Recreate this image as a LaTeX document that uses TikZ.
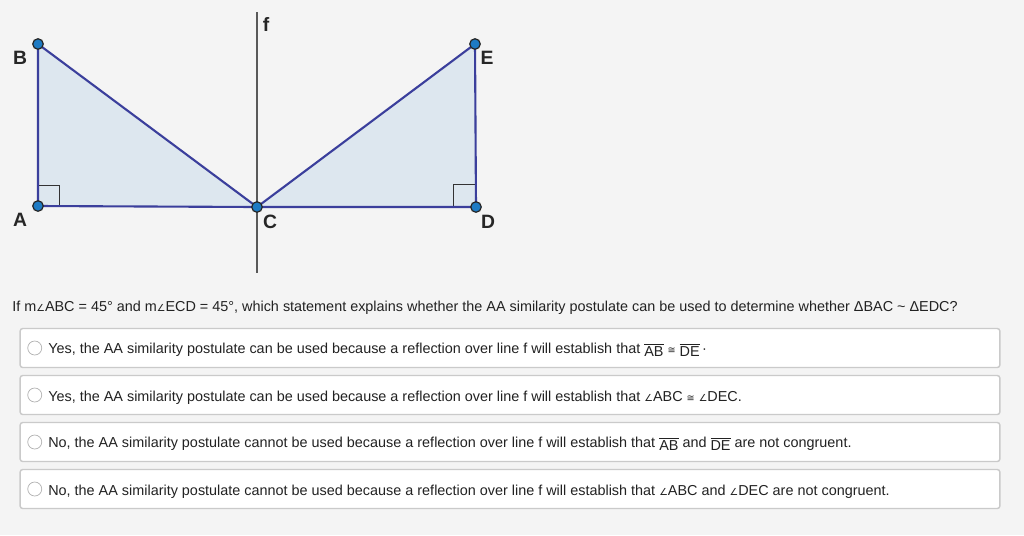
\documentclass[tikz,border=0pt]{standalone}
\usepackage{fontspec}
\setmainfont{Liberation Sans}
\newfontfamily\symfont{DejaVu Sans}
\usetikzlibrary{positioning}

\definecolor{pagebg}{HTML}{F4F4F4}
\definecolor{trifill}{HTML}{DDE7EF}
\definecolor{triedge}{HTML}{3B3F9C}
\definecolor{ptblue}{HTML}{1E7BC4}
\definecolor{boxline}{HTML}{CACACA}
\definecolor{txt}{HTML}{222222}

\newcommand{\angsym}{{\symfont\fontsize{5.5}{5.5}\selectfont ∠}}
\newcommand{\congsym}{{\symfont\fontsize{5.5}{5.5}\selectfont ≅}}
\newcommand{\seg}[1]{\raisebox{-2.2pt}{$\overline{\hbox{#1}}$}}

\begin{document}
\begin{tikzpicture}[x=0.02cm, y=-0.02cm,
	pt/.style={circle, draw=black!85, fill=ptblue, line width=0.7pt, inner sep=0pt, minimum size=6pt},
	lbl/.style={font=\bfseries\fontsize{11}{13}\selectfont, text=black!85},
	choice/.style={draw=boxline, fill=white, line width=0.8pt, rounded corners=1.5pt, minimum width=19.6cm, minimum height=0.78cm},
	radio/.style={circle, draw=black!30, fill=white, line width=0.4pt, inner sep=0pt, minimum size=0.28cm},
	opttext/.style={font=\fontsize{8.2}{10}\selectfont, text=txt}]
	\fill[pagebg] (0,0) rectangle (1024,535);
	\useasboundingbox (0,0) rectangle (1024,535);

	% figure
	\coordinate (A) at (38,206);
	\coordinate (B) at (38,44);
	\coordinate (C) at (257,207);
	\coordinate (D) at (476,207);
	\coordinate (E) at (475,44);
	\coordinate (ftop) at (257,12);
	\coordinate (fbot) at (257,273);

	\fill[trifill] (A) -- (B) -- (C) -- cycle;
	\fill[trifill] (D) -- (E) -- (C) -- cycle;
	\draw[black!80, line width=0.4pt] (A) ++(0,-21) -| ++(21,21);
	\draw[black!80, line width=0.4pt] (D) ++(0,-23) -| ++(-23,23);
	\draw[triedge, line width=1.2pt, line join=round] (A) -- (B) -- (C) -- cycle;
	\draw[triedge, line width=1.2pt, line join=round] (D) -- (E) -- (C) -- cycle;
	\draw[black!65, line width=1pt] (ftop) -- (fbot);

	\node[pt] (pA) at (A) {};
	\node[pt] (pB) at (B) {};
	\node[pt] (pC) at (C) {};
	\node[pt] (pD) at (D) {};
	\node[pt] (pE) at (E) {};

	\node[lbl] (lA) at (20,220) {A};
	\node[lbl] (lB) at (20,58) {B};
	\node[lbl] (lC) at (270,222) {C};
	\node[lbl] (lD) at (488,222) {D};
	\node[lbl] (lE) at (487,58) {E};
	\node[lbl] (lf) at (266,24) {f};

	% question
	\node[opttext, anchor=west, inner sep=0pt] (q) at (12,308)
		{If m\angsym ABC = 45° and m\angsym ECD = 45°, which statement explains whether the AA similarity postulate can be used to determine whether ΔBAC \textasciitilde{} ΔEDC?};

	% answer choices
	\node[choice] (opt1) at (510,348) {};
	\node[radio, right=0.16cm of opt1.west] (r1) {};
	\node[opttext, right=0pt of r1, yshift=-1pt] (t1) {Yes, the AA similarity postulate can be used because a reflection over line f will establish that \seg{AB} \congsym{} \seg{DE}\,·};

	\node[choice] (opt2) at (510,395) {};
	\node[radio, right=0.16cm of opt2.west] (r2) {};
	\node[opttext, right=0pt of r2, yshift=-1.5pt] (t2) {Yes, the AA similarity postulate can be used because a reflection over line f will establish that \angsym ABC \congsym{} \angsym DEC.};

	\node[choice] (opt3) at (510,442) {};
	\node[radio, right=0.16cm of opt3.west] (r3) {};
	\node[opttext, right=0pt of r3, yshift=-1pt] (t3) {No, the AA similarity postulate cannot be used because a reflection over line f will establish that \seg{AB} and \seg{DE} are not congruent.};

	\node[choice] (opt4) at (510,489) {};
	\node[radio, right=0.16cm of opt4.west] (r4) {};
	\node[opttext, right=0pt of r4, yshift=-1.5pt] (t4) {No, the AA similarity postulate cannot be used because a reflection over line f will establish that \angsym ABC and \angsym DEC are not congruent.};
\end{tikzpicture}
\end{document}
